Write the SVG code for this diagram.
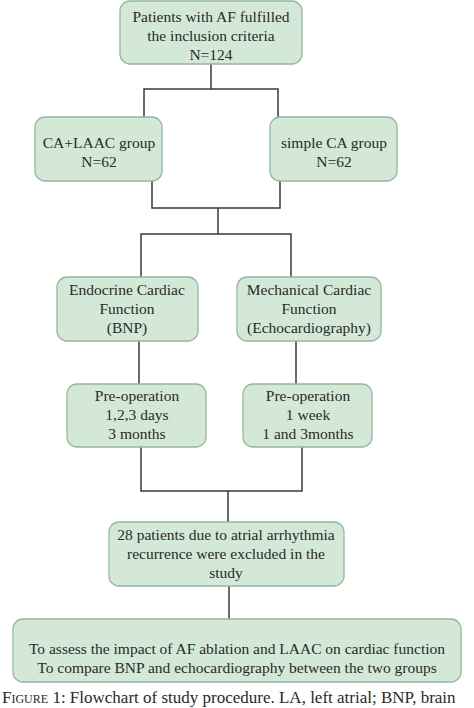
<svg xmlns="http://www.w3.org/2000/svg" width="474" height="708" viewBox="0 0 474 708">
<style>
.box{fill:#d4e8d8;stroke:#93b89c;stroke-width:1.3}
.t{font-family:"Liberation Serif","Times New Roman",serif;font-size:15.5px;fill:#2a2a2a;text-anchor:middle}
.c{fill:none;stroke:#3a3a3a;stroke-width:1.5}
</style>
<rect width="474" height="708" fill="#ffffff"/>
<g id="connectors">
<path class="c" d="M211,64 V89 M144,117 V89 H278 V117"/>
<path class="c" d="M152,181 V208 H280 V181 M218,208 V234 M141,278 V234 H291 V278"/>
<path class="c" d="M139,341 V384 M296,341 V384"/>
<path class="c" d="M141,447 V491 H302 V447 M228,491 V522"/>
<path class="c" d="M229,586 V619"/>
</g>
<g id="n1"><rect class="box" x="120" y="1" width="182" height="63" rx="10"/>
<text class="t" x="211" y="22">Patients with AF fulfilled</text>
<text class="t" x="211" y="41">the inclusion criteria</text>
<text class="t" x="211" y="60">N=124</text></g>
<g id="n2"><rect class="box" x="35" y="117" width="127" height="64" rx="10"/>
<text class="t" x="99" y="148">CA+LAAC group</text>
<text class="t" x="99" y="167">N=62</text></g>
<g id="n3"><rect class="box" x="270" y="117" width="127" height="64" rx="10"/>
<text class="t" x="334" y="148">simple CA group</text>
<text class="t" x="334" y="167">N=62</text></g>
<g id="n4"><rect class="box" x="57" y="277" width="141" height="64" rx="10"/>
<text class="t" x="127" y="295">Endocrine Cardiac</text>
<text class="t" x="127" y="314">Function</text>
<text class="t" x="127" y="333">(BNP)</text></g>
<g id="n5"><rect class="box" x="237" y="277" width="144" height="64" rx="10"/>
<text class="t" x="309" y="295">Mechanical Cardiac</text>
<text class="t" x="309" y="314">Function</text>
<text class="t" x="309" y="333">(Echocardiography)</text></g>
<g id="n6"><rect class="box" x="67" y="384" width="139" height="63" rx="10"/>
<text class="t" x="137" y="401">Pre-operation</text>
<text class="t" x="137" y="420">1,2,3 days</text>
<text class="t" x="137" y="439">3 months</text></g>
<g id="n7"><rect class="box" x="243" y="384" width="129" height="63" rx="10"/>
<text class="t" x="308" y="401">Pre-operation</text>
<text class="t" x="308" y="420">1 week</text>
<text class="t" x="308" y="439">1 and 3months</text></g>
<g id="n8"><rect class="box" x="109" y="522" width="235" height="64" rx="10"/>
<text class="t" x="226" y="540">28 patients due to atrial arrhythmia</text>
<text class="t" x="226" y="559">recurrence were excluded in the</text>
<text class="t" x="226" y="578">study</text></g>
<g id="n9"><rect class="box" x="13" y="619" width="448" height="63" rx="10"/>
<text class="t" x="237" y="654">To assess the impact of AF ablation and LAAC on cardiac function</text>
<text class="t" x="237" y="673">To compare BNP and echocardiography between the two groups</text></g>
<text x="2" y="703" font-family="'Liberation Serif','Times New Roman',serif" font-size="17" fill="#2a2a2a"><tspan font-variant="small-caps">Figure</tspan> 1: Flowchart of study procedure. LA, left atrial; BNP, brain</text>
</svg>
